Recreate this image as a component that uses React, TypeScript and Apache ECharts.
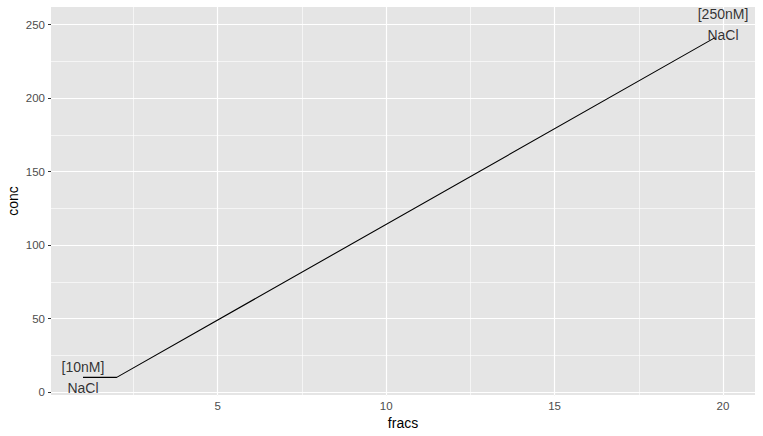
import React, { useEffect, useRef } from "react";
import * as echarts from "echarts";

const fracs = [1, 2, 19.75];
const conc = [10, 10, 241];

const labelX = [1, 20];
const labelY = [10, 250];
const labelText = ["[10nM]\nNaCl", "[250nM]\nNaCl"];

const xMajor = [5, 10, 15, 20];
const xMinor = [2.5, 7.5, 12.5, 17.5];
const yMajor = [0, 50, 100, 150, 200, 250];
const yMinor = [25, 75, 125, 175, 225];

const FONT = "'Liberation Sans', Arial, Helvetica, sans-serif";

export default function App() {
  const ref = useRef<HTMLDivElement>(null);
  useEffect(() => {
    document.body.style.margin = "0";
    if (!ref.current) return;
    const chart = echarts.init(ref.current, undefined, { renderer: "svg" });
    const lineData = fracs.map((x, i) => [x, conc[i]]);
    const gridLines = [
      ...xMinor.map((v) => ({ xAxis: v, lineStyle: { width: 0.6 } })),
      ...yMinor.map((v) => ({ yAxis: v, lineStyle: { width: 0.6 } })),
      ...xMajor.map((v) => ({ xAxis: v, lineStyle: { width: 1.2 } })),
      ...yMajor.map((v) => ({ yAxis: v, lineStyle: { width: 1.2 } })),
    ];
    chart.setOption({
      animation: false,
      textStyle: { fontFamily: FONT },
      grid: {
        left: 51,
        right: 8,
        top: 7,
        bottom: 41,
        show: true,
        backgroundColor: "#E5E5E5",
        borderWidth: 0,
        containLabel: false,
        outerBoundsMode: "none",
      },
      xAxis: {
        type: "value",
        min: 0.05,
        max: 20.95,
        name: "fracs",
        nameLocation: "middle",
        nameGap: 21,
        nameMoveOverlap: false,
        nameTextStyle: { color: "#000", fontSize: 14, fontFamily: FONT },
        axisLine: { show: false },
        axisTick: { show: true, length: 3, customValues: xMajor, lineStyle: { color: "#333", width: 1 } },
        axisLabel: { customValues: xMajor, color: "#4D4D4D", fontSize: 11.5, margin: 5, fontFamily: FONT },
        splitLine: { show: false },
      },
      yAxis: {
        type: "value",
        min: -2,
        max: 262,
        name: "conc",
        nameLocation: "middle",
        nameGap: 31,
        nameMoveOverlap: false,
        nameTextStyle: { color: "#000", fontSize: 14, fontFamily: FONT },
        axisLine: { show: false },
        axisTick: { show: true, length: 3, customValues: yMajor, lineStyle: { color: "#333", width: 1 } },
        axisLabel: { customValues: yMajor, color: "#4D4D4D", fontSize: 11.5, margin: 6, fontFamily: FONT },
        splitLine: { show: false },
      },
      series: [
        {
          type: "line",
          data: lineData,
          showSymbol: false,
          lineStyle: { width: 0, opacity: 0 },
          silent: true,
          z: 1,
          markLine: {
            silent: true,
            z: 1,
            symbol: ["none", "none"],
            label: { show: false },
            lineStyle: { color: "#FFFFFF", type: "solid" },
            data: gridLines,
          },
        },
        {
          type: "line",
          data: lineData,
          showSymbol: false,
          symbol: "none",
          lineStyle: { color: "#000", width: 1.1 },
          z: 10,
        },
        {
          type: "scatter",
          data: labelX.map((x, i) => [x, labelY[i], labelText[i]]),
          symbolSize: 1,
          itemStyle: { color: "rgba(0,0,0,0)" },
          z: 11,
          label: {
            show: true,
            position: "inside",
            formatter: (p: any) => p.value[2],
            color: "#000",
            fontSize: 14,
            lineHeight: 21,
            align: "center",
            fontFamily: FONT,
          },
        },
      ],
    });
    return () => chart.dispose();
  }, []);
  return <div ref={ref} style={{ width: 763, height: 436 }} />;
}
